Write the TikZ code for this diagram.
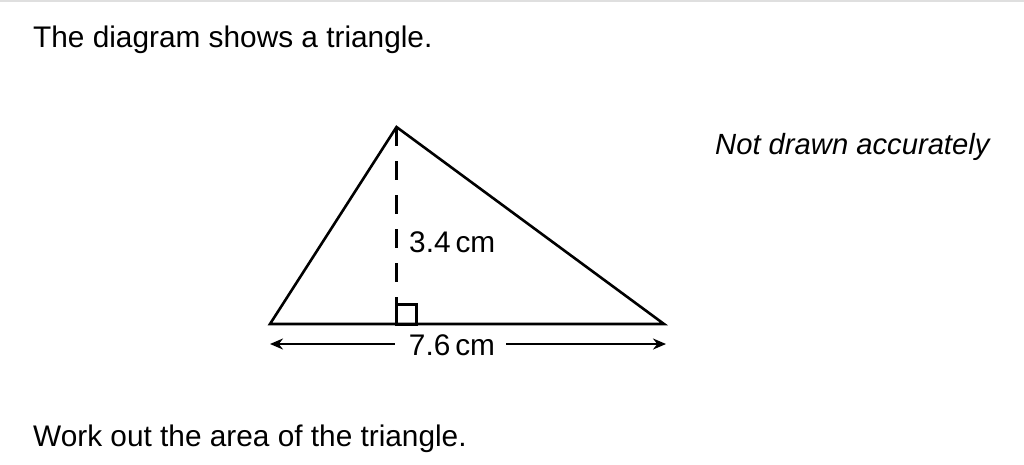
\documentclass[tikz,border=0pt]{standalone}
\usepackage{fontspec}
\setmainfont{Liberation Sans}
\usetikzlibrary{arrows.meta}
\begin{document}
\begin{tikzpicture}[x=1pt,y=-1pt,
  txt/.style={inner sep=0pt,anchor=base west,font=\fontsize{29.8}{36}\selectfont},
  edge/.style={line width=2.6pt,line join=miter},
  dimarrow/.style={line width=2.4pt,-{Stealth[length=13pt,width=11pt]}}]
\useasboundingbox[fill=white] (0,0) rectangle (1024,464);
\draw[gray!25,line width=1.5pt] (0,0.75) -- (1024,0.75);
\node[txt] (t1) at (33,47) {The diagram shows a triangle.};
\node[txt] (t2) at (715,154) {\fontsize{29.2}{36}\selectfont\itshape Not drawn accurately};
\node[txt] (t3) at (33,446) {Work out the area of the triangle.};
\coordinate (A) at (396.5,127);
\coordinate (B) at (270,324);
\coordinate (C) at (664,324);
\coordinate (F) at (396.5,304);
\draw[edge] (A) -- (B) -- (C) -- cycle;
\draw[line width=3pt,dash pattern=on 19pt off 15pt] (A) -- (F);
\draw[line width=3pt] (396.5,324) rectangle (416.5,304.5);
\node[txt] (h) at (409,252) {3.4\,cm};
\node[txt,anchor=base] (b) at (452,355) {7.6\,cm};
\coordinate (L) at (270,344);
\coordinate (R) at (666,344);
\draw[dimarrow] (b.west |- L) ++(-14,0) coordinate (bl) -- (L);
\draw[dimarrow] (b.east |- R) ++(11,0) coordinate (br) -- (R);
\end{tikzpicture}
\end{document}
